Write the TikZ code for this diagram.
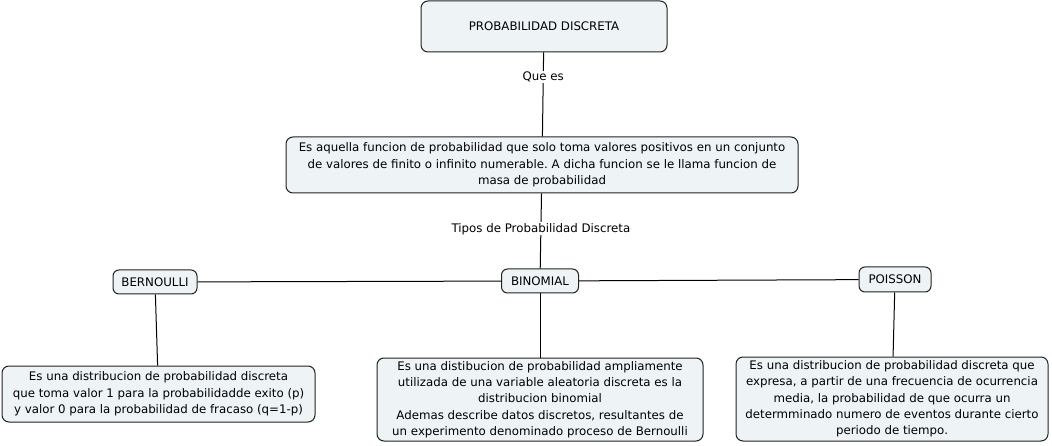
\documentclass[tikz,border=0pt]{standalone}
\usepackage{fontspec}
\setmainfont{DejaVu Sans}
\definecolor{boxfill}{HTML}{EEF3F5}
\definecolor{boxline}{HTML}{222222}
\frenchspacing
\begin{document}
\begin{tikzpicture}[x=1pt, y=-1pt, line width=1pt, concept node/.style={rectangle, rounded corners=7pt, draw=boxline, fill=boxfill, align=center, inner sep=2pt, font=\fontsize{11.8}{16.3}\selectfont}, link label/.style={fill=white, inner sep=1pt, font=\fontsize{11.8}{16.3}\selectfont}]
\useasboundingbox (0,0) rectangle (1052,446);
\begin{scope}
\node[concept node, minimum width=246pt, minimum height=51pt] (discreta) at (544,26.5) {PROBABILIDAD DISCRETA};
\node[concept node, minimum width=512pt, minimum height=56pt] (definicion) at (542,165) {Es aquella funcion de probabilidad que solo toma valores positivos en un conjunto\\de valores de finito o infinito numerable. A dicha funcion se le llama funcion de\\masa de probabilidad};
\node[concept node, rounded corners=6pt, minimum width=77pt, minimum height=24pt] (binomial) at (540,281) {BINOMIAL};
\node[concept node, rounded corners=6pt, minimum width=84pt, minimum height=24pt] (bernoulli) at (155,282) {BERNOULLI};
\node[concept node, rounded corners=6pt, minimum width=72pt, minimum height=25pt] (poisson) at (895,279.5) {POISSON};
\node[concept node, minimum width=313pt, minimum height=56pt] (bernoullitxt) at (158.5,394) {Es una distribucion de probabilidad discreta\\que toma valor 1 para la probabilidadde exito (p)\\y valor 0 para la probabilidad de fracaso (q=1-p)};
\node[concept node, minimum width=326pt, minimum height=83pt] (binomialtxt) at (540,399.5) {Es una distibucion de probabilidad ampliamente\\utilizada de una variable aleatoria discreta es la\\distribucion binomial\\Ademas describe datos discretos, resultantes de\\un experimento denominado proceso de Bernoulli};
\node[concept node, minimum width=312pt, minimum height=84pt] (poissontxt) at (892,399) {Es una distribucion de probabilidad discreta que\\expresa, a partir de una frecuencia de ocurrencia\\media, la probabilidad de que ocurra un\\determminado numero de eventos durante cierto\\periodo de tiempo.};
\end{scope}
\begin{scope}
\draw (discreta) -- node[link label, pos=0.29]{Que es} (definicion);
\draw (definicion) -- node[link label, pos=0.47]{Tipos de Probabilidad Discreta} (binomial);
\draw (binomial) -- (bernoulli);
\draw (binomial) -- (poisson);
\draw (bernoulli) -- (bernoullitxt);
\draw (binomial) -- (binomialtxt);
\draw (poisson) -- (poissontxt);
\end{scope}
\end{tikzpicture}
\end{document}
